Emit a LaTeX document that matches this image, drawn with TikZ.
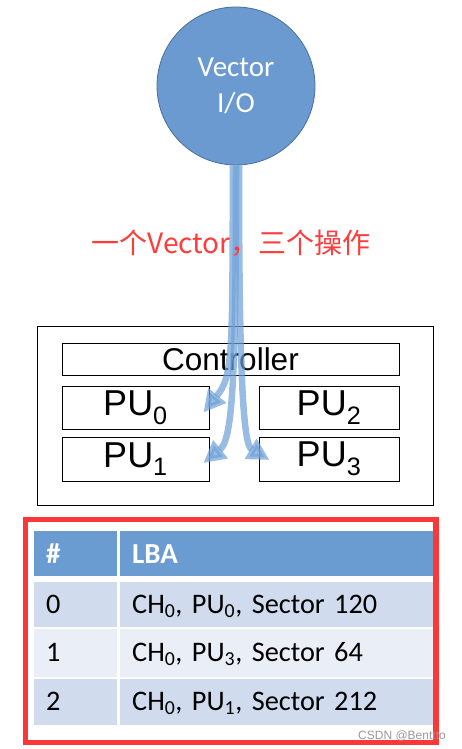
\documentclass[tikz,border=0pt]{standalone}
\usepackage{fontspec}
\setmainfont{Carlito}
\newfontfamily\arialfont{Liberation Sans}
\newfontfamily\cjk{Noto Sans CJK SC}
\usetikzlibrary{arrows.meta, positioning}

\definecolor{vecblue}{RGB}{106,154,208}
\definecolor{vecedge}{RGB}{72,110,158}
\definecolor{flowblue}{RGB}{110,160,215}
\definecolor{hintred}{RGB}{255,60,60}
\definecolor{headblue}{RGB}{106,155,209}
\definecolor{rowdark}{RGB}{208,219,238}
\definecolor{rowlight}{RGB}{233,238,247}
\definecolor{framered}{RGB}{252,55,55}

\newcommand{\sbs}[1]{\textsubscript{#1}}

\begin{document}
\begin{tikzpicture}[
        x=1pt, y=-1pt,
        unit/.style={draw=black, line width=0.9pt, fill=white, inner sep=0pt, font=\arialfont\fontsize{36}{40}\selectfont},
        flow/.style={-{Triangle[length=22pt,width=22pt]}, line width=6.5pt, draw=flowblue, opacity=0.7},
        cell/.style={anchor=north west, inner xsep=12pt, inner ysep=0pt, align=left, text depth=0pt, font=\fontsize{28.3}{31}\selectfont},
        head/.style={cell, fill=headblue, text=white, text height=20pt, font=\bfseries\fontsize{29}{32}\selectfont}
    ]
        \useasboundingbox (0,0) rectangle (462,749);
        % source
        \node[circle, fill=vecblue, draw=vecedge, line width=0.8pt, minimum size=158pt, inner sep=0pt,
              text=white, align=center, font=\fontsize{29}{36}\selectfont] (vec) at (236,86) {Vector\\I/O};
        % device
        \node[draw=black, line width=0.9pt, minimum width=396pt, minimum height=179pt] (board) at (235,415.5) {};
        \node[unit, minimum width=337pt, minimum height=32pt, font=\arialfont\fontsize{31.5}{34}\selectfont] (ctrl) at (230.5,359) {Controller};
        \node[unit, minimum width=147pt, minimum height=43pt] (pu0) at (135.5,407.5) {PU\sbs{0}};
        \node[unit, minimum width=147pt, minimum height=44pt] (pu1) at (135.5,459) {PU\sbs{1}};
        \node[unit, minimum width=140pt, minimum height=43pt] (pu2) at (329,407.5) {PU\sbs{2}};
        \node[unit, minimum width=140pt, minimum height=44pt] (pu3) at (329,459) {PU\sbs{3}};
        % requests
        \draw[flow] ([xshift=-3pt]vec.south) .. controls (232,350) and (234,375) .. ([xshift=-6pt,yshift=-5pt]pu0.east);
        \draw[flow] (vec.south) .. controls (236,390) and (232,440) .. ([xshift=-6pt,yshift=-4pt]pu1.east);
        \draw[flow] ([xshift=3pt]vec.south) .. controls (239,390) and (244,445) .. ([xshift=11pt,yshift=-1pt]pu3.west);
        \node[text=hintred, font=\cjk\fontsize{28}{32}\selectfont] (hint) at (231,243) {一个Vector，三个操作};
        % table
        \node[head, text width=59pt, minimum height=45pt] (hnum) at (34,531) {\#};
        \node[head, text width=289pt, minimum height=45pt] (hlba) at (120,531) {LBA};
        \node[cell, fill=rowdark, text height=17.5pt, text width=59pt, minimum height=45pt] (n0) at (34,582) {0};
        \node[cell, fill=rowdark, text height=17.5pt, text width=289pt, minimum height=45pt] (l0) at (120,582) {CH\sbs{0}, PU\sbs{0}, Sector 120};
        \node[cell, fill=rowlight, text height=17.5pt, text width=59pt, minimum height=48pt] (n1) at (34,628.5) {1};
        \node[cell, fill=rowlight, text height=17.5pt, text width=289pt, minimum height=48pt] (l1) at (120,628.5) {CH\sbs{0}, PU\sbs{3}, Sector 64};
        \node[cell, fill=rowdark, text height=17.5pt, text width=59pt, minimum height=46.5pt] (n2) at (34,678.5) {2};
        \node[cell, fill=rowdark, text height=17.5pt, text width=289pt, minimum height=46.5pt] (l2) at (120,678.5) {CH\sbs{0}, PU\sbs{1}, Sector 212};
        \draw[draw=framered, line width=5.5pt] (25.5,519.5) rectangle (436,742.5);
        \node[text=black!40, font=\arialfont\fontsize{12}{14}\selectfont] (mark) at (402,736) {CSDN @Benttto};
    \end{tikzpicture}
\end{document}
